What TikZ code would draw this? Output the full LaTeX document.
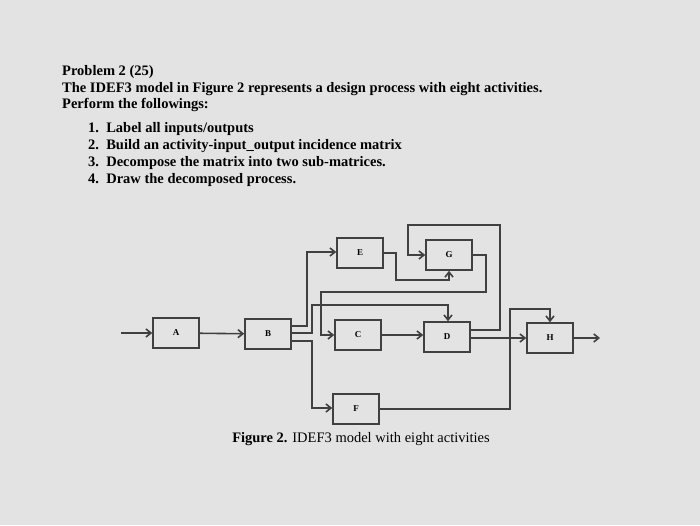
\documentclass[tikz,border=0pt]{standalone}
\usepackage{fontspec}
\setmainfont{Liberation Serif}
\usetikzlibrary{arrows.meta}
\begin{document}
\begin{tikzpicture}[x=1pt,y=-1pt,
  act/.style={draw=black!75,line width=1.6pt,minimum width=46pt,minimum height=30pt,inner sep=0pt,font=\bfseries\fontsize{9}{10}\selectfont},
  flow/.style={draw=black!75,line width=1.6pt,-{Straight Barb[length=5pt,width=8pt]}},
  txt/.style={anchor=base west,inner sep=0pt,font=\bfseries\fontsize{14.5}{16}\selectfont}]
\fill[black!11] (0,0) rectangle (700,525);
\useasboundingbox (0,0) rectangle (700,525);
\node[txt] (t1) at (62,75) {Problem 2 (25)};
\node[txt] (t2) at (62,92) {The IDEF3 model in Figure 2 represents a design process with eight activities.};
\node[txt] (t3) at (62,108) {Perform the followings:};
\node[txt] (l1) at (88,132) {1.\ \ Label all inputs/outputs};
\node[txt] (l2) at (88,149) {2.\ \ Build an activity-input\_output incidence matrix};
\node[txt] (l3) at (88,166) {3.\ \ Decompose the matrix into two sub-matrices.};
\node[txt] (l4) at (88,183) {4.\ \ Draw the decomposed process.};
\node[act] (A) at (176,333) {A};
\node[act] (B) at (268,334) {B};
\node[act] (E) at (360,253) {E};
\node[act] (C) at (358,335) {C};
\node[act] (F) at (356,409) {F};
\node[act] (G) at (449,255) {G};
\node[act] (D) at (447,337) {D};
\node[act] (H) at (550,338) {H};
\coordinate (in) at (121,333);
\coordinate (out) at (600,338);
\draw[flow] (in) -- (A);
\draw[flow] (A) -- (B);
\draw[flow] (B.east |- 0,326) -| (307,252) -- (E.west |- 0,252);
\draw[flow] (B.east |- 0,333) -| (312,305) -| (448,0 |- D.north);
\draw[flow] (B.east |- 0,341) -| (312,408) -- (F.west |- 0,408);
\draw[flow] (E.east) -| (396,280) -| (G.south);
\draw[flow] (G.east) -| (486,292) -| (321,335) -- (C.west |- 0,335);
\draw[flow] (C.east |- 0,335) -- (D.west |- 0,335);
\draw[flow] (D.east |- 0,330) -| (500,225) -| (408,255) -- (G.west);
\draw[flow] (D.east |- 0,338) -- (H.west);
\draw[flow] (F.east) -| (510,309) -| (H.north);
\draw[flow] (H.east) -- (out);
\node[anchor=base,inner sep=0pt,font=\fontsize{14.5}{16}\selectfont] (cap) at (361,442) {\textbf{Figure 2.} IDEF3 model with eight activities};
\end{tikzpicture}
\end{document}
